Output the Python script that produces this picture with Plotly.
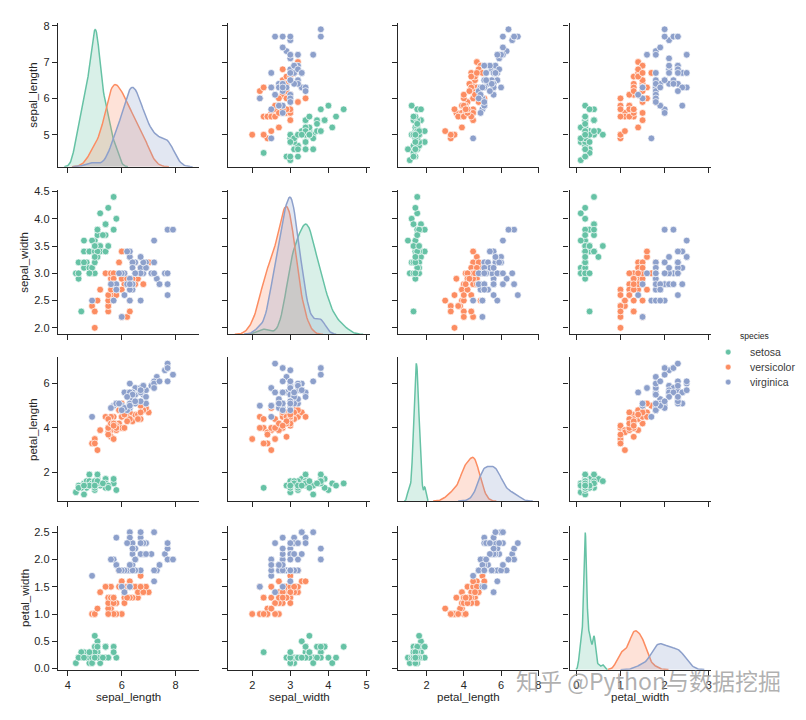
import numpy as np
import plotly.graph_objects as go

# ---------------- data (Fisher's iris, as plotted) ----------------
VARIABLES = ["sepal_length", "sepal_width", "petal_length", "petal_width"]
SPECIES = ["setosa", "versicolor", "virginica"]
COLORS = {"setosa": "#66c2a5", "versicolor": "#fc8d62", "virginica": "#8da0cb"}

SETOSA_SEPAL_LENGTH = [5.1, 4.9, 4.7, 4.6, 5.0, 5.4, 4.6, 5.0, 4.4, 4.9, 5.4, 4.8, 4.8, 4.3, 5.8, 5.7, 5.4, 5.1, 5.7, 5.1,
                       5.4, 5.1, 4.6, 5.1, 4.8, 5.0, 5.0, 5.2, 5.2, 4.7, 4.8, 5.4, 5.2, 5.5, 4.9, 5.0, 5.5, 4.9, 4.4, 5.1,
                       5.0, 4.5, 4.4, 5.0, 5.1, 4.8, 5.1, 4.6, 5.3, 5.0]
SETOSA_SEPAL_WIDTH = [3.5, 3.0, 3.2, 3.1, 3.6, 3.9, 3.4, 3.4, 2.9, 3.1, 3.7, 3.4, 3.0, 3.0, 4.0, 4.4, 3.9, 3.5, 3.8, 3.8,
                      3.4, 3.7, 3.6, 3.3, 3.4, 3.0, 3.4, 3.5, 3.4, 3.2, 3.1, 3.4, 4.1, 4.2, 3.1, 3.2, 3.5, 3.6, 3.0, 3.4,
                      3.5, 2.3, 3.2, 3.5, 3.8, 3.0, 3.8, 3.2, 3.7, 3.3]
SETOSA_PETAL_LENGTH = [1.4, 1.4, 1.3, 1.5, 1.4, 1.7, 1.4, 1.5, 1.4, 1.5, 1.5, 1.6, 1.4, 1.1, 1.2, 1.5, 1.3, 1.4, 1.7, 1.5,
                       1.7, 1.5, 1.0, 1.7, 1.9, 1.6, 1.6, 1.5, 1.4, 1.6, 1.6, 1.5, 1.5, 1.4, 1.5, 1.2, 1.3, 1.4, 1.3, 1.5,
                       1.3, 1.3, 1.3, 1.6, 1.9, 1.4, 1.6, 1.4, 1.5, 1.4]
SETOSA_PETAL_WIDTH = [0.2, 0.2, 0.2, 0.2, 0.2, 0.4, 0.3, 0.2, 0.2, 0.1, 0.2, 0.2, 0.1, 0.1, 0.2, 0.4, 0.4, 0.3, 0.3, 0.3,
                      0.2, 0.4, 0.2, 0.5, 0.2, 0.2, 0.4, 0.2, 0.2, 0.2, 0.2, 0.4, 0.1, 0.2, 0.2, 0.2, 0.2, 0.1, 0.2, 0.2,
                      0.3, 0.3, 0.2, 0.6, 0.4, 0.3, 0.2, 0.2, 0.2, 0.2]

VERSICOLOR_SEPAL_LENGTH = [7.0, 6.4, 6.9, 5.5, 6.5, 5.7, 6.3, 4.9, 6.6, 5.2, 5.0, 5.9, 6.0, 6.1, 5.6, 6.7, 5.6, 5.8, 6.2, 5.6,
                           5.9, 6.1, 6.3, 6.1, 6.4, 6.6, 6.8, 6.7, 6.0, 5.7, 5.5, 5.5, 5.8, 6.0, 5.4, 6.0, 6.7, 6.3, 5.6, 5.5,
                           5.5, 6.1, 5.8, 5.0, 5.6, 5.7, 5.7, 6.2, 5.1, 5.7]
VERSICOLOR_SEPAL_WIDTH = [3.2, 3.2, 3.1, 2.3, 2.8, 2.8, 3.3, 2.4, 2.9, 2.7, 2.0, 3.0, 2.2, 2.9, 2.9, 3.1, 3.0, 2.7, 2.2, 2.5,
                          3.2, 2.8, 2.5, 2.8, 2.9, 3.0, 2.8, 3.0, 2.9, 2.6, 2.4, 2.4, 2.7, 2.7, 3.0, 3.4, 3.1, 2.3, 3.0, 2.5,
                          2.6, 3.0, 2.6, 2.3, 2.7, 3.0, 2.9, 2.9, 2.5, 2.8]
VERSICOLOR_PETAL_LENGTH = [4.7, 4.5, 4.9, 4.0, 4.6, 4.5, 4.7, 3.3, 4.6, 3.9, 3.5, 4.2, 4.0, 4.7, 3.6, 4.4, 4.5, 4.1, 4.5, 3.9,
                           4.8, 4.0, 4.9, 4.7, 4.3, 4.4, 4.8, 5.0, 4.5, 3.5, 3.8, 3.7, 3.9, 5.1, 4.5, 4.5, 4.7, 4.4, 4.1, 4.0,
                           4.4, 4.6, 4.0, 3.3, 4.2, 4.2, 4.2, 4.3, 3.0, 4.1]
VERSICOLOR_PETAL_WIDTH = [1.4, 1.5, 1.5, 1.3, 1.5, 1.3, 1.6, 1.0, 1.3, 1.4, 1.0, 1.5, 1.0, 1.4, 1.3, 1.4, 1.5, 1.0, 1.5, 1.1,
                          1.8, 1.3, 1.5, 1.2, 1.3, 1.4, 1.4, 1.7, 1.5, 1.0, 1.1, 1.0, 1.2, 1.6, 1.5, 1.6, 1.5, 1.3, 1.3, 1.3,
                          1.2, 1.4, 1.2, 1.0, 1.3, 1.2, 1.3, 1.3, 1.1, 1.3]

VIRGINICA_SEPAL_LENGTH = [6.3, 5.8, 7.1, 6.3, 6.5, 7.6, 4.9, 7.3, 6.7, 7.2, 6.5, 6.4, 6.8, 5.7, 5.8, 6.4, 6.5, 7.7, 7.7, 6.0,
                          6.9, 5.6, 7.7, 6.3, 6.7, 7.2, 6.2, 6.1, 6.4, 7.2, 7.4, 7.9, 6.4, 6.3, 6.1, 7.7, 6.3, 6.4, 6.0, 6.9,
                          6.7, 6.9, 5.8, 6.8, 6.7, 6.7, 6.3, 6.5, 6.2, 5.9]
VIRGINICA_SEPAL_WIDTH = [3.3, 2.7, 3.0, 2.9, 3.0, 3.0, 2.5, 2.9, 2.5, 3.6, 3.2, 2.7, 3.0, 2.5, 2.8, 3.2, 3.0, 3.8, 2.6, 2.2,
                         3.2, 2.8, 2.8, 2.7, 3.3, 3.2, 2.8, 3.0, 2.8, 3.0, 2.8, 3.8, 2.8, 2.8, 2.6, 3.0, 3.4, 3.1, 3.0, 3.1,
                         3.1, 3.1, 2.7, 3.2, 3.3, 3.0, 2.5, 3.0, 3.4, 3.0]
VIRGINICA_PETAL_LENGTH = [6.0, 5.1, 5.9, 5.6, 5.8, 6.6, 4.5, 6.3, 5.8, 6.1, 5.1, 5.3, 5.5, 5.0, 5.1, 5.3, 5.5, 6.7, 6.9, 5.0,
                          5.7, 4.9, 6.7, 4.9, 5.7, 6.0, 4.8, 4.9, 5.6, 5.8, 6.1, 6.4, 5.6, 5.1, 5.6, 6.1, 5.6, 5.5, 4.8, 5.4,
                          5.6, 5.1, 5.1, 5.9, 5.7, 5.2, 5.0, 5.2, 5.4, 5.1]
VIRGINICA_PETAL_WIDTH = [2.5, 1.9, 2.1, 1.8, 2.2, 2.1, 1.7, 1.8, 1.8, 2.5, 2.0, 1.9, 2.1, 2.0, 2.4, 2.3, 1.8, 2.2, 2.3, 1.5,
                         2.3, 2.0, 2.0, 1.8, 2.1, 1.8, 1.8, 1.8, 2.1, 1.6, 1.9, 2.0, 2.2, 1.5, 1.4, 2.3, 2.4, 1.8, 1.8, 2.1,
                         2.4, 2.3, 1.9, 2.3, 2.5, 2.3, 1.9, 2.0, 2.3, 1.8]

DATA = {
    "setosa": dict(zip(VARIABLES, [SETOSA_SEPAL_LENGTH, SETOSA_SEPAL_WIDTH, SETOSA_PETAL_LENGTH, SETOSA_PETAL_WIDTH])),
    "versicolor": dict(zip(VARIABLES, [VERSICOLOR_SEPAL_LENGTH, VERSICOLOR_SEPAL_WIDTH, VERSICOLOR_PETAL_LENGTH, VERSICOLOR_PETAL_WIDTH])),
    "virginica": dict(zip(VARIABLES, [VIRGINICA_SEPAL_LENGTH, VIRGINICA_SEPAL_WIDTH, VIRGINICA_PETAL_LENGTH, VIRGINICA_PETAL_WIDTH])),
}

X_TICKS = {
    "sepal_length": [4, 6, 8],
    "sepal_width": [2, 3, 4, 5],
    "petal_length": [2, 4, 6, 8],
    "petal_width": [0, 1, 2, 3],
}
Y_TICKS = {
    "sepal_length": [5, 6, 7, 8],
    "sepal_width": [2.0, 2.5, 3.0, 3.5, 4.0, 4.5],
    "petal_length": [2, 4, 6],
    "petal_width": [0.0, 0.5, 1.0, 1.5, 2.0, 2.5],
}
Y_FORMAT = {"sepal_length": "d", "sepal_width": ".1f", "petal_length": "d", "petal_width": ".1f"}

# ---------------- helpers ----------------
CUT = 3
GRIDSIZE = 100


def scott_bw(x):
    x = np.asarray(x, float)
    iqr = (np.percentile(x, 75) - np.percentile(x, 25)) / 1.349
    a = min(np.std(x, ddof=1), iqr)
    return 1.059 * a * len(x) ** (-0.2)


def kde(x):
    x = np.asarray(x, float)
    bw = scott_bw(x)
    grid = np.linspace(x.min() - CUT * bw, x.max() + CUT * bw, GRIDSIZE)
    z = (grid[:, None] - x[None, :]) / bw
    dens = np.exp(-0.5 * z ** 2).sum(axis=1) / (len(x) * bw * np.sqrt(2 * np.pi))
    return grid, dens


def rgba(hexc, a):
    h = hexc.lstrip("#")
    return "rgba(%d,%d,%d,%.3f)" % (int(h[0:2], 16), int(h[2:4], 16), int(h[4:6], 16), a)


# ---------------- geometry (pixels in an 806x720 page) ----------------
W, H = 806, 720
COL_LEFT = [58, 229, 399, 571]
ROW_TOP = [18, 188, 357, 528]
PW, PH = 141.5, 146
YTITLE_X = [33, 24.5, 33, 24.5]

KDES = {v: {s: kde(DATA[s][v]) for s in SPECIES} for v in VARIABLES}

# axis ranges, matplotlib-like autoscale with 5% margins
x_ranges = {}
y_ranges = {}
for v in VARIABLES:
    lo = min(KDES[v][s][0].min() for s in SPECIES)
    hi = max(KDES[v][s][0].max() for s in SPECIES)
    sp = hi - lo
    x_ranges[v] = [lo - 0.05 * sp, hi + 0.05 * sp]
    allv = np.concatenate([np.asarray(DATA[s][v]) for s in SPECIES])
    lo, hi = allv.min(), allv.max()
    sp = hi - lo
    y_ranges[v] = [lo - 0.05 * sp, hi + 0.05 * sp]

FONT = "Liberation Sans, Arial, DejaVu Sans, sans-serif"
INK = "#262626"

fig = go.Figure()
layout = dict(
    width=W, height=H, margin=dict(l=0, r=0, t=0, b=0),
    paper_bgcolor="white", plot_bgcolor="rgba(0,0,0,0)", showlegend=False,
    font=dict(family=FONT, size=11, color=INK),
)

axis_common = dict(
    showline=True, linecolor=INK, linewidth=1.25, mirror=False,
    ticks="outside", ticklen=5, tickwidth=1.1, tickcolor=INK,
    showgrid=False, zeroline=False, fixedrange=True,
    tickfont=dict(family=FONT, size=11, color=INK),
)


def axid(letter, k):
    return letter if k == 1 else "%s%d" % (letter, k)


N = len(VARIABLES)
for r, vy in enumerate(VARIABLES):
    for c, vx in enumerate(VARIABLES):
        k = r * N + c + 1
        xa, ya = axid("x", k), axid("y", k)
        x0 = COL_LEFT[c] / W
        x1 = (COL_LEFT[c] + PW) / W
        y1 = 1 - ROW_TOP[r] / H
        y0 = 1 - (ROW_TOP[r] + PH) / H
        layout[axid("xaxis", k)] = dict(
            axis_common, domain=[x0, x1], anchor=ya, range=x_ranges[vx],
            tickmode="array", tickvals=X_TICKS[vx], showticklabels=(r == N - 1),
        )
        layout[axid("yaxis", k)] = dict(
            axis_common, domain=[y0, y1], anchor=xa, range=y_ranges[vy],
            tickmode="array", tickvals=Y_TICKS[vy], tickformat=Y_FORMAT[vy],
            showticklabels=(c == 0),
        )
        if r == c:
            # register the main (row-scale) subplot so its ticks/labels are drawn
            fig.add_trace(go.Scatter(x=[], y=[], xaxis=xa, yaxis=ya, mode="markers",
                                     hoverinfo="skip", showlegend=False))
            # density gets its own hidden y scale on the diagonal panel (twin axis)
            kid = N * N + 1 + r
            ymax = max(KDES[vx][s][1].max() for s in SPECIES)
            layout["yaxis%d" % kid] = dict(
                overlaying=ya, anchor=xa, domain=[y0, y1],
                range=[0, ymax * 1.05], visible=False, fixedrange=True,
                showgrid=False, zeroline=False, showline=False, ticks="",
                showticklabels=False,
            )
            for s in SPECIES:
                g, d = KDES[vx][s]
                fig.add_trace(go.Scatter(
                    x=g, y=d, mode="lines", xaxis=xa, yaxis="y%d" % kid,
                    line=dict(color=COLORS[s], width=1.5), fill="tozeroy",
                    fillcolor=rgba(COLORS[s], 0.25), hoverinfo="skip", name=s,
                ))
        else:
            for s in SPECIES:
                fig.add_trace(go.Scatter(
                    x=DATA[s][vx], y=DATA[s][vy], mode="markers",
                    xaxis=xa, yaxis=ya, name=s,
                    marker=dict(color=COLORS[s], size=6.8, line=dict(color="white", width=0.7)),
                    hoverinfo="skip",
                ))

annotations = []
# axis titles
for c, v in enumerate(VARIABLES):
    annotations.append(dict(
        text=v, xref="paper", yref="paper", x=(COL_LEFT[c] + PW / 2) / W, y=1 - 702 / H,
        xanchor="center", yanchor="middle", showarrow=False,
        font=dict(family=FONT, size=11.5, color=INK),
    ))
for r, v in enumerate(VARIABLES):
    annotations.append(dict(
        text=v, xref="paper", yref="paper", x=YTITLE_X[r] / W, y=1 - (ROW_TOP[r] + PH / 2) / H,
        xanchor="center", yanchor="middle", textangle=-90, showarrow=False,
        font=dict(family=FONT, size=11.5, color=INK),
    ))

# legend (drawn manually to mimic matplotlib's compact legend)
annotations.append(dict(
    text="species", xref="paper", yref="paper", x=740 / W, y=1 - 336 / H,
    xanchor="left", yanchor="middle", showarrow=False,
    font=dict(family=FONT, size=8.5, color=INK),
))
shapes = []
for i, s in enumerate(SPECIES):
    yc = 1 - (352 + 15.2 * i) / H
    annotations.append(dict(
        text=s, xref="paper", yref="paper", x=750 / W, y=yc,
        xanchor="left", yanchor="middle", showarrow=False,
        font=dict(family=FONT, size=10.5, color="#3a3a3a"),
    ))
    shapes.append(dict(
        type="circle", xref="paper", yref="paper", xsizemode="pixel", ysizemode="pixel",
        xanchor=730 / W, yanchor=yc, x0=-2.8, x1=2.8, y0=-2.8, y1=2.8,
        fillcolor=COLORS[s], line=dict(color="white", width=0.5),
    ))

# watermark
annotations.append(dict(
    text="知乎 @Python与数据挖掘", xref="paper", yref="paper", x=785 / W, y=1 - 684 / H,
    xanchor="right", yanchor="middle", showarrow=False,
    font=dict(family="Noto Sans CJK SC, sans-serif", size=23, color="rgba(150,150,150,0.75)"),
))

layout["annotations"] = annotations
layout["shapes"] = shapes
fig.update_layout(**layout)
fig.write_html("out.html")
